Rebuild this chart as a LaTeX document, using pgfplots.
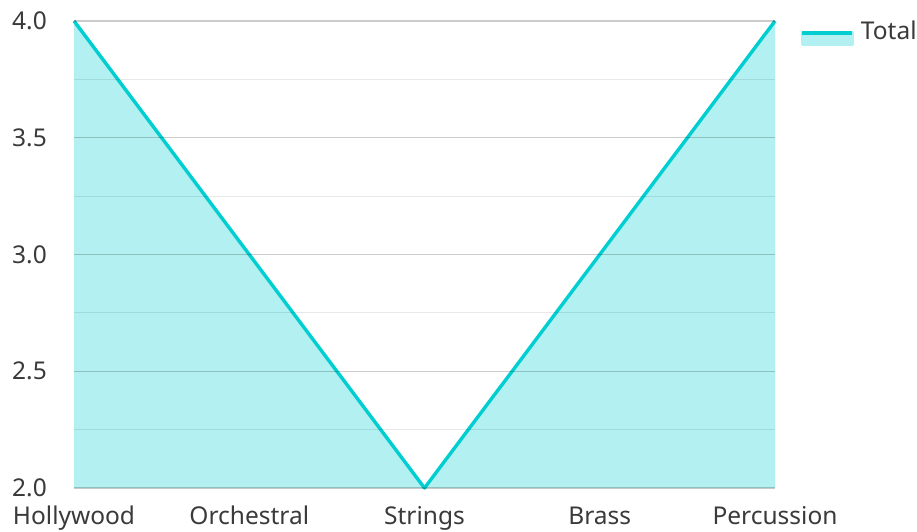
\documentclass[border=0pt]{standalone}
\usepackage{pgfplots}
\pgfplotsset{compat=1.18}
\usepackage{fontspec}
\setmainfont{Noto Sans}
\definecolor{linec}{HTML}{00CED1}
\definecolor{fillc}{HTML}{B2F0F1}
\definecolor{txt}{HTML}{3A3A3A}
\begin{document}
\begin{tikzpicture}
\begin{axis}[
  at={(0,0)}, anchor=south west,
  scale only axis,
  width=701pt, height=467pt,
  xmin=0, xmax=4, ymin=2, ymax=4,
  clip=false,
  axis on top,
  axis line style={draw=none},
  major tick length=0pt, minor tick length=0pt,
  xtick={0,1,2,3,4},
  xticklabels={Hollywood,Orchestral,Strings,Brass,Percussion},
  ytick={2,2.5,3,3.5,4},
  minor ytick={2.25,2.75,3.25,3.75},
  ymajorgrids, yminorgrids,
  major grid style={black, opacity=0.2, line width=1.2pt},
  minor grid style={black, opacity=0.09, line width=1.2pt},
  /pgf/number format/assume math mode=true,
  yticklabel style={/pgf/number format/fixed, /pgf/number format/fixed zerofill, /pgf/number format/precision=1},
  every tick label/.append style={font=\fontsize{24.5}{28}\selectfont, text=txt},
  yticklabel style={anchor=east, inner sep=0pt, xshift=-27pt},
  xticklabel style={anchor=base, inner sep=0pt, yshift=-36.5pt},
  legend style={at={(1,1)}, anchor=west, xshift=25pt, yshift=-11.5pt,
    draw=none, fill=none, inner sep=0pt,
    font=\fontsize{24.5}{28}\selectfont, text=txt},
  legend cell align=left,
]
\addplot[fill=fillc, draw=none, forget plot] coordinates {(0,2) (0,4) (1,3) (2,2) (3,3) (4,4) (4,2)} -- cycle;
\addplot[linec, line width=3.4pt, line join=round,
  legend image code/.code={
    \fill[fillc] (0pt,-14pt) rectangle (50pt,-2pt);
    \draw[linec, line width=4pt] (0pt,-2pt) -- (50pt,-2pt);
    \path (55pt,0pt);
  }] coordinates {(0,4) (1,3) (2,2) (3,3) (4,4)};
\addlegendentry{Total}
\end{axis}
\pgfresetboundingbox
\useasboundingbox (-74pt,-43pt) rectangle (843pt,488pt);
\end{tikzpicture}
\end{document}
